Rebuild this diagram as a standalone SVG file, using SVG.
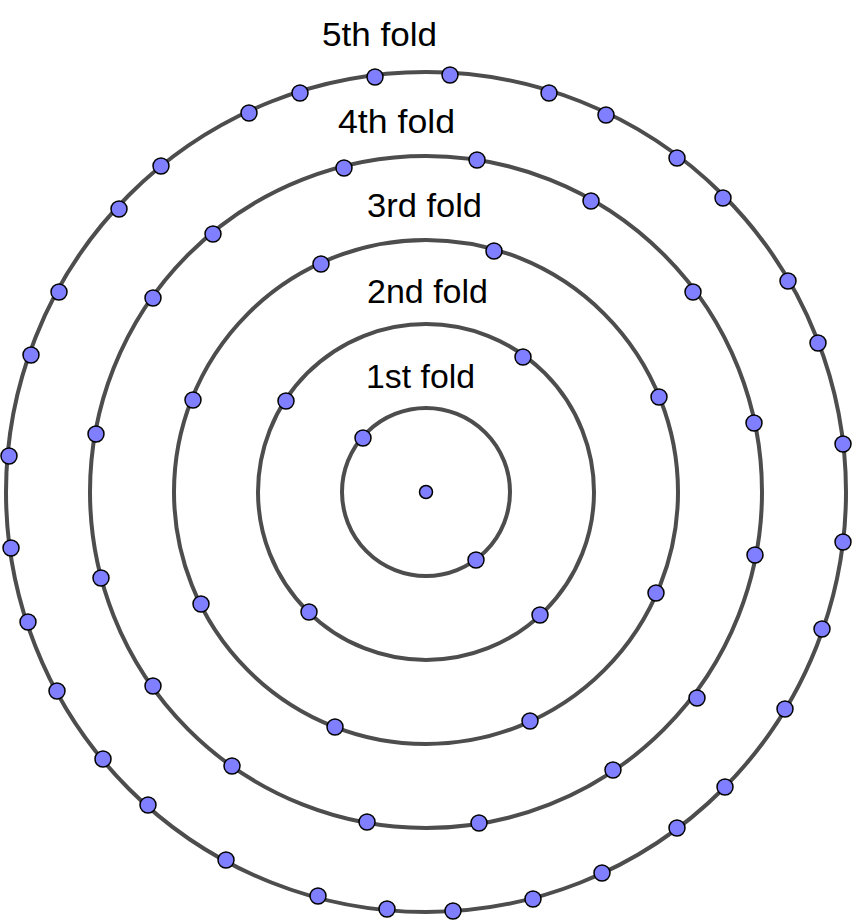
<svg xmlns="http://www.w3.org/2000/svg" width="852" height="921" viewBox="0 0 852 921">
<style>
.ring{fill:none;stroke:#4d4d4d;stroke-width:4}
.pt{fill:#7f7fff;stroke:#000;stroke-width:1.5}
.lbl{font-family:"Liberation Sans",Arial,sans-serif;font-size:33px;fill:#000}
</style>
<rect width="852" height="921" fill="#fff"/>
<g id="rings">
<circle class="ring" cx="426" cy="492" r="84"/>
<circle class="ring" cx="426" cy="492" r="168"/>
<circle class="ring" cx="426" cy="492" r="252"/>
<circle class="ring" cx="426" cy="492" r="336"/>
<circle class="ring" cx="426" cy="492" r="420"/>
</g>
<g id="labels">
<text class="lbl" x="322" y="46" textLength="115" lengthAdjust="spacingAndGlyphs">5th fold</text>
<text class="lbl" x="338" y="133" textLength="117" lengthAdjust="spacingAndGlyphs">4th fold</text>
<text class="lbl" x="367" y="217" textLength="115" lengthAdjust="spacingAndGlyphs">3rd fold</text>
<text class="lbl" x="367" y="303" textLength="121" lengthAdjust="spacingAndGlyphs">2nd fold</text>
<text class="lbl" x="366" y="388" textLength="109" lengthAdjust="spacingAndGlyphs">1st fold</text>
</g>
<g id="center">
<circle class="pt" cx="426" cy="492" r="6.5"/>
</g>
<g id="fold1">
<circle class="pt" cx="363" cy="438" r="8"/>
<circle class="pt" cx="476" cy="560" r="8"/>
</g>
<g id="fold2">
<circle class="pt" cx="286" cy="401" r="8"/>
<circle class="pt" cx="523" cy="357" r="8"/>
<circle class="pt" cx="540" cy="615" r="8"/>
<circle class="pt" cx="309" cy="612" r="8"/>
</g>
<g id="fold3">
<circle class="pt" cx="321" cy="264" r="8"/>
<circle class="pt" cx="494" cy="251" r="8"/>
<circle class="pt" cx="659" cy="397" r="8"/>
<circle class="pt" cx="656" cy="593" r="8"/>
<circle class="pt" cx="530" cy="721" r="8"/>
<circle class="pt" cx="335" cy="727" r="8"/>
<circle class="pt" cx="201" cy="604" r="8"/>
<circle class="pt" cx="193" cy="400" r="8"/>
</g>
<g id="fold4">
<circle class="pt" cx="344" cy="168" r="8"/>
<circle class="pt" cx="477" cy="160" r="8"/>
<circle class="pt" cx="591" cy="201" r="8"/>
<circle class="pt" cx="693" cy="292" r="8"/>
<circle class="pt" cx="754" cy="423" r="8"/>
<circle class="pt" cx="755" cy="555" r="8"/>
<circle class="pt" cx="697" cy="698" r="8"/>
<circle class="pt" cx="613" cy="770" r="8"/>
<circle class="pt" cx="479" cy="823" r="8"/>
<circle class="pt" cx="367" cy="822" r="8"/>
<circle class="pt" cx="232" cy="766" r="8"/>
<circle class="pt" cx="153" cy="686" r="8"/>
<circle class="pt" cx="101" cy="578" r="8"/>
<circle class="pt" cx="96" cy="434" r="8"/>
<circle class="pt" cx="153" cy="298" r="8"/>
<circle class="pt" cx="213" cy="234" r="8"/>
</g>
<g id="fold5">
<circle class="pt" cx="375" cy="77" r="8"/>
<circle class="pt" cx="450" cy="75" r="8"/>
<circle class="pt" cx="549" cy="93" r="8"/>
<circle class="pt" cx="606" cy="115" r="8"/>
<circle class="pt" cx="677" cy="158" r="8"/>
<circle class="pt" cx="723" cy="198" r="8"/>
<circle class="pt" cx="788" cy="281" r="8"/>
<circle class="pt" cx="818" cy="343" r="8"/>
<circle class="pt" cx="843" cy="444" r="8"/>
<circle class="pt" cx="843" cy="542" r="8"/>
<circle class="pt" cx="822" cy="629" r="8"/>
<circle class="pt" cx="785" cy="709" r="8"/>
<circle class="pt" cx="725" cy="787" r="8"/>
<circle class="pt" cx="677" cy="828" r="8"/>
<circle class="pt" cx="602" cy="873" r="8"/>
<circle class="pt" cx="533" cy="899" r="8"/>
<circle class="pt" cx="453" cy="911" r="8"/>
<circle class="pt" cx="387" cy="909" r="8"/>
<circle class="pt" cx="318" cy="896" r="8"/>
<circle class="pt" cx="226" cy="860" r="8"/>
<circle class="pt" cx="148" cy="805" r="8"/>
<circle class="pt" cx="103" cy="759" r="8"/>
<circle class="pt" cx="57" cy="691" r="8"/>
<circle class="pt" cx="28" cy="622" r="8"/>
<circle class="pt" cx="11" cy="548" r="8"/>
<circle class="pt" cx="9" cy="456" r="8"/>
<circle class="pt" cx="31" cy="355" r="8"/>
<circle class="pt" cx="59" cy="292" r="8"/>
<circle class="pt" cx="119" cy="209" r="8"/>
<circle class="pt" cx="161" cy="166" r="8"/>
<circle class="pt" cx="249" cy="113" r="8"/>
<circle class="pt" cx="300" cy="93" r="8"/>
</g>
</svg>
